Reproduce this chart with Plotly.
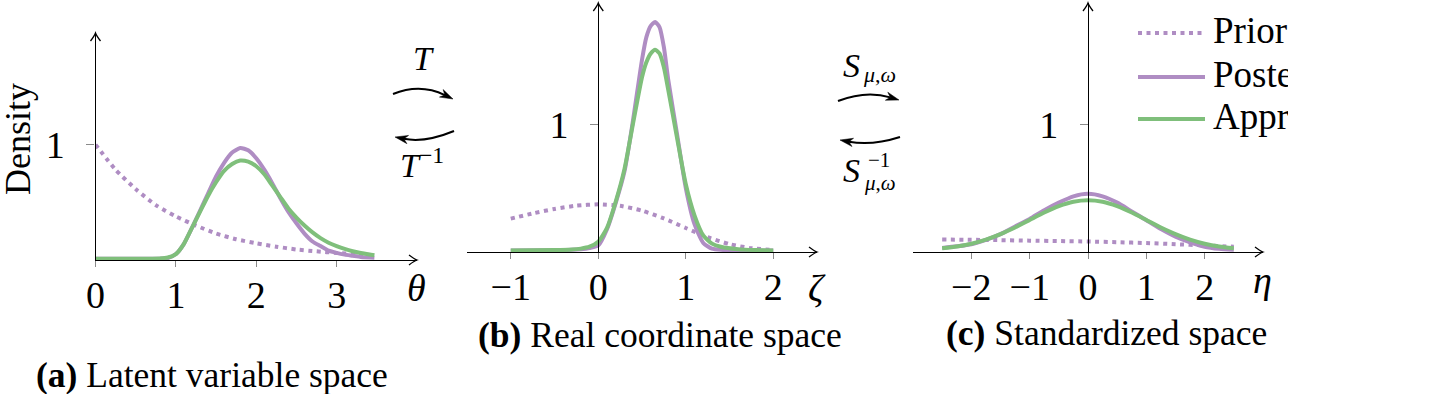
import plotly.graph_objects as go

W, H = 1438, 394
PURPLE = "#af8dc3"
GREEN = "#7fbf7b"
FONT = "Liberation Serif"

# ---------------- data ----------------
# (a) latent variable space (theta)
theta_prior = [0, 0.25, 0.5, 0.75, 1.0, 1.25, 1.5, 1.75, 2.0, 2.25, 2.5, 2.75, 3.0, 3.25, 3.47]
prior_a = [1.0, 0.78, 0.61, 0.47, 0.37, 0.29, 0.22, 0.17, 0.135, 0.105, 0.08, 0.064, 0.05, 0.039, 0.031]
theta = [0, 0.8, 0.9, 1.0, 1.1, 1.2, 1.3, 1.4, 1.5, 1.6, 1.7, 1.8, 1.9, 2.0, 2.1, 2.2, 2.3, 2.4,
         2.5, 2.6, 2.7, 2.8, 2.9, 3.0, 3.1, 3.2, 3.3, 3.47]
post_a = [0, 0, 0.005, 0.04, 0.13, 0.27, 0.42, 0.57, 0.72, 0.84, 0.93, 0.97, 0.95, 0.88, 0.78, 0.66,
          0.53, 0.41, 0.31, 0.22, 0.15, 0.11, 0.07, 0.05, 0.035, 0.025, 0.015, 0.008]
approx_a = [0, 0.002, 0.01, 0.04, 0.13, 0.27, 0.41, 0.55, 0.67, 0.77, 0.83, 0.86, 0.85, 0.81, 0.74,
            0.64, 0.54, 0.44, 0.36, 0.29, 0.23, 0.18, 0.14, 0.11, 0.085, 0.065, 0.05, 0.03]

# (b) real coordinate space (zeta)
zeta_prior = [-1, -0.75, -0.5, -0.25, 0, 0.25, 0.5, 0.75, 1.0, 1.25, 1.5, 1.75, 2.0]
prior_b = [0.254, 0.295, 0.331, 0.357, 0.368, 0.356, 0.317, 0.255, 0.179, 0.106, 0.051, 0.018, 0.005]
zeta = [-1, -0.5, -0.3, -0.2, -0.1, 0, 0.1, 0.2, 0.3, 0.4, 0.5, 0.55, 0.6, 0.65, 0.7, 0.75, 0.8,
        0.9, 1.0, 1.1, 1.2, 1.3, 1.4, 1.6, 1.8, 2.0]
post_b = [0, 0.002, 0.005, 0.01, 0.02, 0.04, 0.17, 0.38, 0.63, 1.05, 1.52, 1.70, 1.79, 1.82, 1.78,
          1.62, 1.36, 0.93, 0.50, 0.21, 0.06, 0.015, 0.005, 0.001, 0, 0]
approx_b = [0, 0.003, 0.008, 0.015, 0.03, 0.07, 0.18, 0.39, 0.65, 1.02, 1.38, 1.50, 1.57, 1.60, 1.57,
            1.46, 1.28, 0.90, 0.53, 0.28, 0.12, 0.055, 0.03, 0.01, 0.003, 0]

# (c) standardized space (eta)
eta_prior = [-2.5, -2.0, -1.5, -1.0, -0.5, 0, 0.5, 1.0, 1.5, 2.0, 2.5]
prior_c = [0.087, 0.085, 0.082, 0.078, 0.075, 0.071, 0.066, 0.059, 0.05, 0.04, 0.03]
eta = [-2.5, -2.25, -2.0, -1.75, -1.5, -1.25, -1.0, -0.75, -0.5, -0.25, 0,
       0.25, 0.5, 0.75, 1.0, 1.25, 1.5, 1.75, 2.0, 2.25, 2.5]
post_c = [0.02, 0.033, 0.05, 0.085, 0.13, 0.19, 0.25, 0.32, 0.38, 0.43, 0.45,
          0.43, 0.38, 0.31, 0.24, 0.17, 0.11, 0.065, 0.03, 0.013, 0.005]
approx_c = [0.018, 0.032, 0.054, 0.086, 0.13, 0.183, 0.242, 0.301, 0.352, 0.387, 0.399,
            0.387, 0.352, 0.301, 0.242, 0.183, 0.13, 0.086, 0.054, 0.032, 0.018]

legend_labels = ["Prior", "Posterior", "Approximation"]
ticks_a = [0, 1, 2, 3]
ticks_b = [-1, 0, 1, 2]
ticks_c = [-2, -1, 0, 1, 2]
ytick = [1]

# ---------------- helpers (pixel -> paper) ----------------
def xd(px):
    return px / W

def yd(py):
    return 1 - py / H

def P(px, py):
    return f"{xd(px):.5f},{yd(py):.5f}"

fig = go.Figure()

LW = 4
DOT = "4px,4.5px"

def add_panel(xs_p, ys_p, xs, post, approx, xa, ya):
    fig.add_trace(go.Scatter(x=xs_p, y=ys_p, mode="lines", xaxis=xa, yaxis=ya,
                             line=dict(color=PURPLE, width=LW, dash=DOT, shape="spline", smoothing=0.6),
                             showlegend=False, hoverinfo="skip"))
    fig.add_trace(go.Scatter(x=xs, y=post, mode="lines", xaxis=xa, yaxis=ya,
                             line=dict(color=PURPLE, width=LW, shape="spline", smoothing=0.6),
                             showlegend=False, hoverinfo="skip"))
    fig.add_trace(go.Scatter(x=xs, y=approx, mode="lines", xaxis=xa, yaxis=ya,
                             line=dict(color=GREEN, width=LW, shape="spline", smoothing=0.6),
                             showlegend=False, hoverinfo="skip"))

add_panel(theta_prior, prior_a, theta, post_a, approx_a, "x", "y")
add_panel(zeta_prior, prior_b, zeta, post_b, approx_b, "x2", "y2")
add_panel(eta_prior, prior_c, eta, post_c, approx_c, "x3", "y3")

# legend (clipped at the right like the reference)
leg_y = [33, 77, 119]
leg_styles = [dict(color=PURPLE, width=LW, dash=DOT), dict(color=PURPLE, width=LW),
              dict(color=GREEN, width=LW)]
for yy, st in zip(leg_y, leg_styles):
    fig.add_trace(go.Scatter(x=[1138, 1205], y=[yy, yy], mode="lines", xaxis="x4", yaxis="y4",
                             line=st, showlegend=False, hoverinfo="skip"))
fig.add_trace(go.Scatter(x=[1213] * 3, y=[v + 1 for v in leg_y], mode="text", text=legend_labels,
                         textposition="middle right", xaxis="x4", yaxis="y4",
                         textfont=dict(family=FONT, size=37, color="black"),
                         cliponaxis=True, showlegend=False, hoverinfo="skip"))

TICKFONT = dict(family=FONT, size=38, color="black")
common_x = dict(showline=True, linecolor="black", linewidth=1.3, ticks="outside", ticklen=6,
                tickcolor="#8a8a8a", tickwidth=1, tickfont=TICKFONT, showgrid=False, zeroline=False,
                tickmode="array", ticklabelstandoff=-5, fixedrange=True, automargin=False)
common_y = dict(showline=True, linecolor="black", linewidth=1.3, ticks="outside", ticklen=8,
                tickcolor="#8a8a8a", tickwidth=1, tickfont=TICKFONT, showgrid=False, zeroline=False,
                tickmode="array", tickvals=ytick, ticktext=["1"], ticklabelstandoff=14, fixedrange=True,
                automargin=False)

fig.update_layout(
    width=W, height=H, autosize=False,
    margin=dict(l=0, r=0, t=0, b=0, pad=0, autoexpand=False),
    paper_bgcolor="white", plot_bgcolor="rgba(0,0,0,0)",
    font=dict(family=FONT, color="black"),
    xaxis=dict(domain=[xd(95.5), xd(417)], range=[0, 4.0], anchor="y", tickvals=ticks_a, **common_x),
    yaxis=dict(domain=[yd(260), yd(33)], range=[-0.012, 1.979], anchor="x", **common_y),
    xaxis2=dict(domain=[xd(467), xd(817)], range=[-1.5, 2.5], anchor="y2", tickvals=ticks_b, **common_x),
    yaxis2=dict(domain=[yd(252), yd(3)], range=[-0.012, 1.972], anchor="free", position=xd(598.3), **common_y),
    xaxis3=dict(domain=[xd(913), xd(1263)], range=[-3, 3], anchor="y3", tickvals=ticks_c, **common_x),
    yaxis3=dict(domain=[yd(252), yd(3)], range=[-0.012, 1.964], anchor="free", position=xd(1088), **common_y),
    xaxis4=dict(domain=[xd(1130), xd(1288)], range=[1130, 1288], anchor="y4", visible=False,
                fixedrange=True, automargin=False),
    yaxis4=dict(domain=[yd(140), yd(10)], range=[140, 10], anchor="x4", visible=False,
                fixedrange=True, automargin=False),
)

shapes = []

# axis arrowheads (open "to" style)
def chevron(tx, ty, dx, dy, L=8, w=5):
    nx, ny = -dy, dx
    b1 = (tx - L * dx + w * nx, ty - L * dy + w * ny)
    b2 = (tx - L * dx - w * nx, ty - L * dy - w * ny)
    c1 = (tx - 0.35 * L * dx + 0.2 * w * nx, ty - 0.35 * L * dy + 0.2 * w * ny)
    c2 = (tx - 0.35 * L * dx - 0.2 * w * nx, ty - 0.35 * L * dy - 0.2 * w * ny)
    path = f"M {P(*b1)} Q {P(*c1)} {P(tx, ty)} Q {P(*c2)} {P(*b2)}"
    return dict(type="path", path=path, xref="paper", yref="paper",
                line=dict(color="black", width=1.3), layer="above")

shapes += [chevron(417, 260, 1, 0), chevron(95.5, 33, 0, -1),
           chevron(817, 252, 1, 0), chevron(598.3, 3, 0, -1),
           chevron(1263, 252, 1, 0), chevron(1088, 3, 0, -1)]

# curved transformation arrows
def curved(p0, pc, p1, L=13, w=4.2):
    sx, sy = p1[0] - pc[0], p1[1] - pc[1]
    n = (sx ** 2 + sy ** 2) ** 0.5
    dx, dy = sx / n, sy / n
    nx, ny = -dy, dx
    tx, ty = p1
    notch = (tx - 0.7 * L * dx, ty - 0.7 * L * dy)
    b1 = (tx - L * dx + w * nx, ty - L * dy + w * ny)
    b2 = (tx - L * dx - w * nx, ty - L * dy - w * ny)
    arc = dict(type="path", path=f"M {P(*p0)} Q {P(*pc)} {P(*notch)}", xref="paper", yref="paper",
               line=dict(color="black", width=2))
    head = dict(type="path", path=f"M {P(tx, ty)} L {P(*b1)} L {P(*notch)} L {P(*b2)} Z",
                xref="paper", yref="paper", fillcolor="black", line=dict(color="black", width=0.5))
    return [arc, head]

shapes += curved((393, 94), (420, 83), (453, 99))
shapes += curved((454, 131), (425, 143), (395, 137))
shapes += curved((838, 101), (866, 90), (899, 100))
shapes += curved((900, 137), (872, 146), (840, 140))

fig.update_layout(shapes=shapes)

def ann(text, px, py, size, **kw):
    d = dict(text=text, x=xd(px), y=yd(py), xref="paper", yref="paper", showarrow=False,
             font=dict(family=FONT, size=size, color="black"), xanchor="center", yanchor="middle")
    d.update(kw)
    return d

annotations = [
    ann("Density", 18, 139, 36, textangle=-90),
    ann("<i>θ</i>", 416, 288, 38),
    ann("<i>ζ</i>", 817, 288, 38),
    ann("<i>η</i>", 1262, 280, 38),
    ann("<b>(a)</b> Latent variable space", 212, 375, 35.5),
    ann("<b>(b)</b> Real coordinate space", 660, 335, 35.5),
    ann("<b>(c)</b> Standardized space", 1106, 333, 35.5),
    ann("<i>T</i>", 423, 58, 34),
    ann("<i>T</i><sup>−1</sup>", 422, 163, 34),
    ann("<i>S</i>", 851, 65, 34),
    ann("<i>μ</i>,<i>ω</i>", 880, 75, 22),
    ann("<i>S</i>", 851, 170, 34),
    ann("−1", 879, 160, 21),
    ann("<i>μ</i>,<i>ω</i>", 880, 183, 21),
]
fig.update_layout(annotations=annotations)

fig.write_html("out.html", config={"displayModeBar": False},
               post_script="document.body.style.margin='0';document.body.style.overflow='hidden';")
